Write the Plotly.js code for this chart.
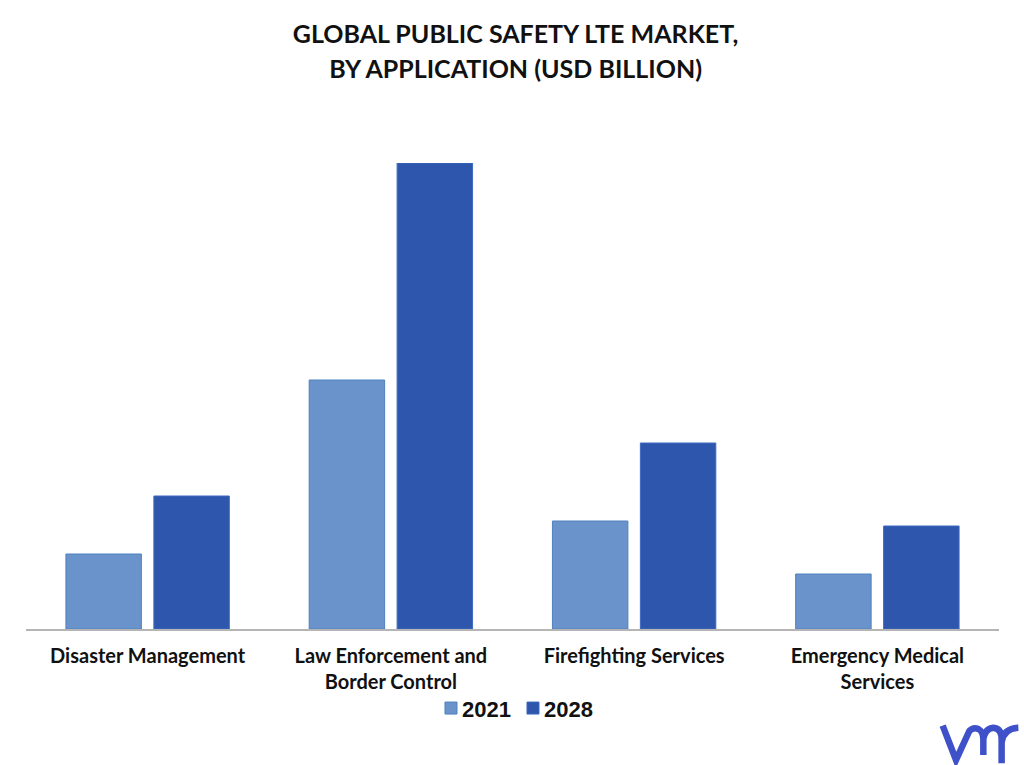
<!DOCTYPE html>
<html><head><meta charset="utf-8">
<script src="https://cdn.plot.ly/plotly-3.0.1.min.js"></script>
<style>html,body{margin:0;padding:0;background:#fff}</style></head>
<body><div id="c" style="width:1024px;height:765px"></div>
<script>
var categories=["Disaster Management","Law Enforcement and<br>Border Control","Firefighting Services","Emergency Medical<br>Services"];
var values2021=[75,249,108,55];
var values2028=[133,466,186,103];
var F="Lato, Open Sans, sans-serif";
var mL=26,mR=25,mT=163,mB=136;
// logo outline, in picture pixels
function X(x){return ((930+x/3-mL)/(1024-mL-mR)).toFixed(4);}
function Y(y){return ((765-mB-(715+y/3))/(765-mT-mB)).toFixed(4);}
function P(x,y){return X(x)+" "+Y(y);}
var logo="M "+P(38,32)+" L "+P(78,135)+" L "+P(118,48)+
" Q "+P(130,35)+" "+P(145,42)+" Q "+P(160,50)+" "+P(160,72)+" L "+P(160,120)+
" M "+P(160,72)+" Q "+P(165,40)+" "+P(190,38)+" Q "+P(215,40)+" "+P(215,72)+" L "+P(215,145)+
" M "+P(215,82)+" Q "+P(220,40)+" "+P(265,38);
Plotly.newPlot("c",[
{type:"bar",name:"2021",x:categories,y:values2021,marker:{color:"#6A93CB",line:{color:"#4F81BD",width:1}}},
{type:"bar",name:"2028",x:categories,y:values2028,marker:{color:"#2E56AC",line:{color:"#3A6BC0",width:1}}}
],{
width:1024,height:765,paper_bgcolor:"#fff",plot_bgcolor:"#fff",
margin:{l:mL,r:mR,t:mT,b:mB},
barmode:"group",bargap:0.277,bargroupgap:0.142,showlegend:true,
title:{text:"<b>GLOBAL PUBLIC SAFETY LTE MARKET,<br>BY APPLICATION (USD BILLION)</b>",font:{family:F,size:25,color:"#111"},x:0.5035,xanchor:"center",y:0.944,yanchor:"top"},
xaxis:{tickfont:{family:F,size:20,color:"#111",weight:700},ticklabelstandoff:8,showline:true,linecolor:"#b5b5b5",linewidth:2,ticks:"",showgrid:false},
yaxis:{range:[0,466],visible:false,showgrid:false,zeroline:false},
legend:{orientation:"h",x:0.5005,xanchor:"center",y:-0.125,yanchor:"top",bgcolor:"rgba(0,0,0,0)",font:{family:"Liberation Sans, Arial, sans-serif",size:22,color:"#111",weight:700},entrywidth:37,entrywidthmode:"pixels",traceorder:"normal"},
shapes:[{type:"path",xref:"paper",yref:"paper",line:{color:"#3F51C8",width:6.5},fillcolor:"rgba(0,0,0,0)",path:logo}]
},{displayModeBar:false}).then(function(){
document.querySelectorAll("#c .legendtext").forEach(function(t){t.setAttribute("x",31);});
var ls=document.querySelectorAll("#c .gtitle .line");
if(ls.length>1){ls[1].setAttribute("y",parseFloat(ls[1].getAttribute("y"))+2.5);}
});
</script></body></html>
